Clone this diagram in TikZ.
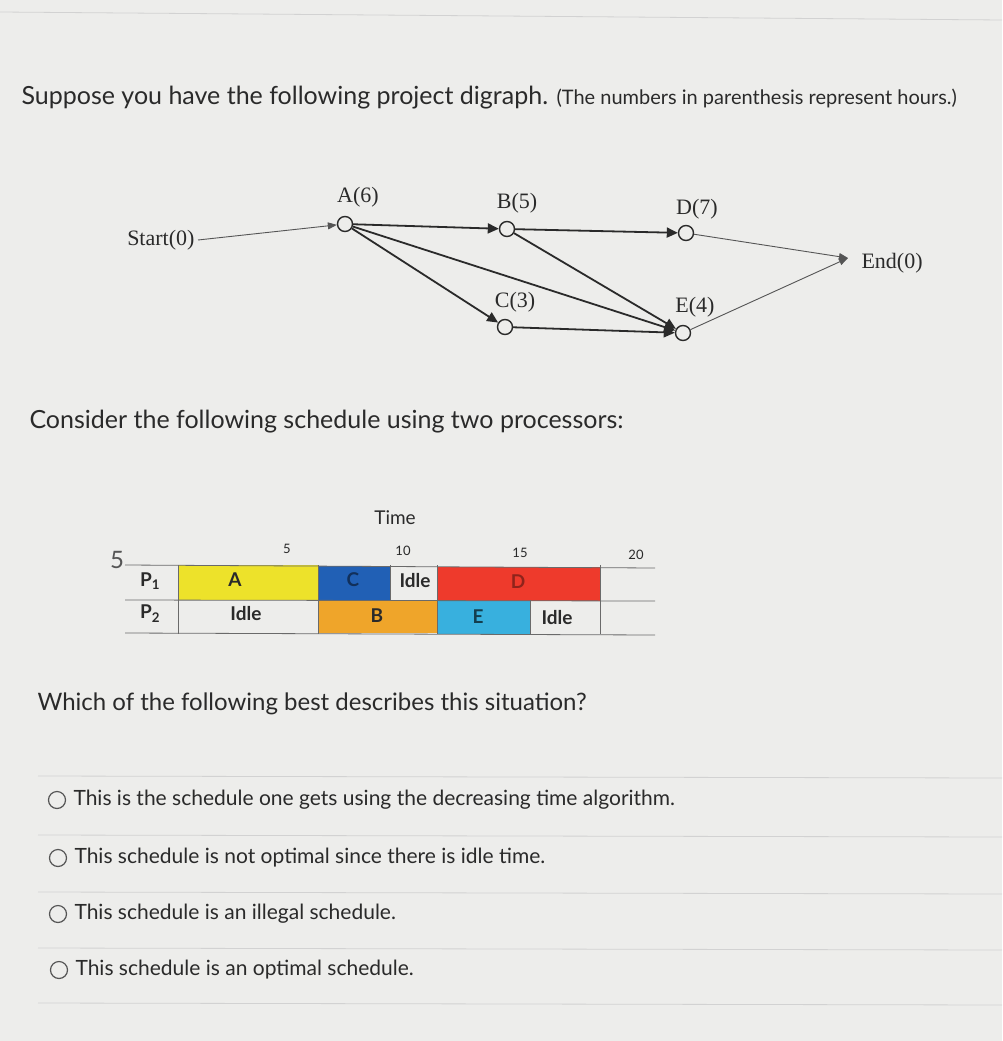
\documentclass[tikz,border=0pt]{standalone}
\usepackage{fontspec}
\setmainfont{Lato}
\newfontfamily\serifg{Liberation Serif}
\usetikzlibrary{arrows.meta}
\definecolor{bg}{HTML}{EDEDEB}
\definecolor{ya}{HTML}{EDE22A}
\definecolor{bc}{HTML}{2160B5}
\definecolor{rd}{HTML}{EE3A2C}
\definecolor{ob}{HTML}{EFA52A}
\definecolor{ce}{HTML}{38B0DE}
\definecolor{tx}{HTML}{2A2A2A}
\tikzset{
 vtx/.style={circle,draw=tx,line width=1.4pt,minimum size=15pt,inner sep=0pt},
 lab/.style={font=\serifg\fontsize{22}{23}\selectfont,text=tx},
 edge/.style={draw=tx,line width=1.8pt,-{Triangle[length=11pt,width=10pt]}},
 thin/.style={draw=tx!80,line width=0.9pt,-{Triangle[length=9pt,width=7pt]}},
 body/.style={font=\fontsize{25}{28}\selectfont,text=tx,anchor=west},
 cell/.style={draw=tx!70,line width=0.8pt},
 ct/.style={font=\bfseries\fontsize{19}{20}\selectfont,text=tx},
 tk/.style={font=\fontsize{13}{14}\selectfont,text=tx},
 sep/.style={draw=gray!35,line width=0.8pt},
 radio/.style={circle,draw=tx!80,line width=1.2pt,minimum size=17pt,inner sep=0pt},
 opt/.style={font=\fontsize{21}{24}\selectfont,text=tx,anchor=west}
}
\begin{document}
\begin{tikzpicture}[x=1pt,y=-1pt]
\fill[bg] (0,0) rectangle (1002,1041);
\useasboundingbox (0,0) rectangle (1002,1041);
\draw[sep] (0,12) -- (1002,20);
\node[body] (q1) at (18,98) {Suppose you have the following project digraph. {\fontsize{20}{22}\selectfont(The numbers in parenthesis represent hours.)}};
% digraph
\node[lab,anchor=east] (st) at (198,240) {Start(0)};
\node[vtx] (a) at (345,224) {};
\node[vtx] (b) at (507,229) {};
\node[vtx] (d) at (686,233) {};
\node[vtx] (c) at (505,327) {};
\node[vtx] (e) at (683,333) {};
\node[lab,anchor=west] (en) at (858,263) {End(0)};
\node[lab] (la) at (358,197) {A(6)};
\node[lab] (lb) at (517,203) {B(5)};
\node[lab] (ld) at (697,209) {D(7)};
\node[lab] (lc) at (515,302) {C(3)};
\node[lab] (le) at (695,307) {E(4)};
\coordinate (ein) at (848,258);
\draw[thin] (st.east) -- (a);
\draw[edge] (a) -- (b);
\draw[edge] (b) -- (d);
\draw[edge] (a) -- (c);
\draw[edge] (a) -- (e);
\draw[edge] (b) -- (e);
\draw[edge] (c) -- (e);
\draw[thin] (d) -- (ein);
\draw[thin] (e) -- (ein);
\node[body] (q2) at (26,422) {Consider the following schedule using two processors:};
% schedule
\node[font=\fontsize{19}{20}\selectfont,text=tx] (time) at (395,518) {Time};
\node[tk] (t5) at (287,549) {5};
\node[tk] (t10) at (403,551) {10};
\node[tk] (t15) at (520,553) {15};
\node[tk] (t20) at (636,555) {20};
\node[font=\fontsize{24}{24}\selectfont,text=tx!80] (five) at (117,560) {5};
\fill[ya] (178,565) rectangle (318,600);
\fill[bc] (318,566) rectangle (390,600);
\fill[rd] (437,567) rectangle (600,601);
\fill[ob] (318,600) rectangle (437,633);
\fill[ce] (437,601) rectangle (530,634);
\draw[cell] (125,565) -- (655,568);
\draw[cell] (125,600) -- (655,601);
\draw[cell] (125,633) -- (655,635);
\foreach \x in {178,318,390,437,600} \draw[cell] (\x,565) -- (\x,600);
\foreach \x in {178,318,437,530,600} \draw[cell] (\x,600) -- (\x,634);
\node[ct] (p1) at (150,581) {P$_{\mathbf 1}$};
\node[ct] (p2) at (150,614) {P$_{\mathbf 2}$};
\node[ct] (ca) at (235,580) {A};
\node[ct,text=bc!50!black] (cc) at (353,580) {C};
\node[ct] (ci1) at (415,581) {Idle};
\node[ct,text=rd!60!black] (cd) at (518,582) {D};
\node[ct] (ci2) at (246,614) {Idle};
\node[ct] (cb) at (377,616) {B};
\node[ct,text=ce!35!black] (ce2) at (478,617) {E};
\node[ct] (ci3) at (557,618) {Idle};
\node[body,font=\fontsize{24}{26}\selectfont] (q3) at (34,704) {Which of the following best describes this situation?};
% options
\foreach \y in {776,835,892,948,1003} \draw[sep] (38,\y) -- (1002,\y+2);
\node[radio] (r1) at (57,800) {};
\node[opt] (o1) at (70,800) {This is the schedule one gets using the decreasing time algorithm.};
\node[radio] (r2) at (58,858) {};
\node[opt] (o2) at (71,858) {This schedule is not optimal since there is idle time.};
\node[radio] (r3) at (58,914) {};
\node[opt] (o3) at (71,914) {This schedule is an illegal schedule.};
\node[radio] (r4) at (59,970) {};
\node[opt] (o4) at (72,970) {This schedule is an optimal schedule.};
\end{tikzpicture}
\end{document}
